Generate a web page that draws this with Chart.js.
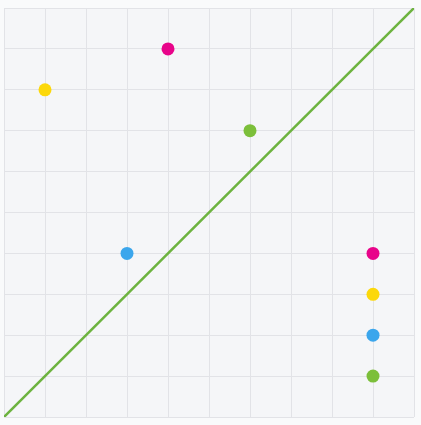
<!DOCTYPE html>
<html>
<head>
<meta charset="utf-8">
<script src="https://cdn.jsdelivr.net/npm/chart.js@4"></script>
<style>
  html, body { margin: 0; padding: 0; background: #f9fafb; }
  #wrap { width: 421px; height: 425px; }
</style>
</head>
<body>
<div id="wrap"><canvas id="myChart"></canvas></div>
<script>
// scattered points and their colours
const pointsX = [1, 4, 6, 3];
const pointsY = [8, 9, 7, 4];
const pointColors = ['#fcd80a', '#e8048a', '#7cbf3a', '#3ba6ec'];

// key column on the right
const keyX = [9, 9, 9, 9];
const keyY = [4, 3, 2, 1];
const keyColors = ['#e8048a', '#fcd80a', '#3ba6ec', '#7cbf3a'];

// diagonal line
const lineX = [0, 10];
const lineY = [0, 10];

const axisMin = 0;
const axisMax = 10;

const toXY = (xs, ys) => xs.map((x, i) => ({ x: x, y: ys[i] }));

const plotBg = {
  id: 'plotBg',
  beforeDraw(chart) {
    const { ctx, chartArea: a } = chart;
    ctx.save();
    ctx.fillStyle = '#f5f6f8';
    ctx.fillRect(a.left, a.top, a.right - a.left, a.bottom - a.top);
    ctx.restore();
  }
};

const axis = {
  type: 'linear',
  min: axisMin,
  max: axisMax,
  ticks: { display: false, stepSize: 1 },
  border: { display: false },
  grid: { color: '#e2e3e7', lineWidth: 1, drawTicks: false }
};

new Chart(document.getElementById('myChart').getContext('2d'), {
  type: 'scatter',
  data: {
    datasets: [
      {
        type: 'line',
        data: toXY(lineX, lineY),
        borderColor: '#6db33f',
        borderWidth: 2.5,
        pointRadius: 0,
        fill: false
      },
      {
        data: toXY(pointsX, pointsY),
        backgroundColor: pointColors,
        borderWidth: 0,
        pointRadius: 6.5
      },
      {
        data: toXY(keyX, keyY),
        backgroundColor: keyColors,
        borderWidth: 0,
        pointRadius: 6.5
      }
    ]
  },
  options: {
    responsive: true,
    maintainAspectRatio: false,
    animation: false,
    layout: { autoPadding: false, padding: { left: 4, top: 8, right: 7, bottom: 8 } },
    plugins: { legend: { display: false }, tooltip: { enabled: false } },
    scales: { x: axis, y: axis }
  },
  plugins: [plotBg]
});
</script>
</body>
</html>
